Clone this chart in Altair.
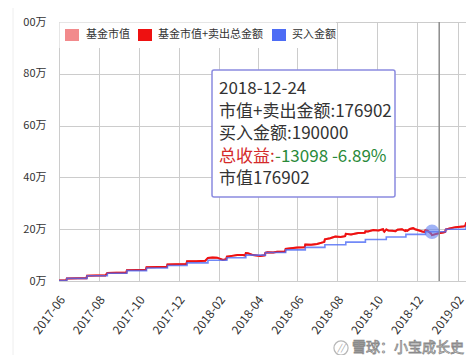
import altair as alt
import pandas as pd

# ---------------- data (values in 万元) ----------------
mv_dates = [
    "2017-06-01", "2017-06-12", "2017-06-13", "2017-06-30", "2017-07-13", "2017-07-14", "2017-07-28", "2017-08-11",
    "2017-08-14", "2017-08-28", "2017-09-12", "2017-09-13", "2017-09-28", "2017-10-12", "2017-10-13", "2017-10-30",
    "2017-11-13", "2017-11-14", "2017-11-28", "2017-12-13", "2017-12-14", "2017-12-28", "2018-01-11", "2018-01-15",
    "2018-01-22", "2018-01-29", "2018-02-07", "2018-02-12", "2018-02-13", "2018-02-23", "2018-03-01", "2018-03-10",
    "2018-03-13", "2018-03-14", "2018-03-17", "2018-03-25", "2018-04-05", "2018-04-12", "2018-04-13", "2018-04-16",
    "2018-04-25", "2018-05-01", "2018-05-13", "2018-05-14", "2018-05-22", "2018-06-01", "2018-06-12", "2018-06-13",
    "2018-06-22", "2018-07-01", "2018-07-11", "2018-07-12", "2018-07-13", "2018-07-21", "2018-07-29", "2018-08-06",
    "2018-08-13", "2018-08-14", "2018-08-22", "2018-09-02", "2018-09-12", "2018-09-13", "2018-09-17", "2018-09-25",
    "2018-10-03", "2018-10-10", "2018-10-11", "2018-10-12", "2018-10-15", "2018-10-18", "2018-10-24", "2018-10-29",
    "2018-11-01", "2018-11-08", "2018-11-13", "2018-11-14", "2018-11-16", "2018-11-20", "2018-11-25", "2018-11-28",
    "2018-12-02", "2018-12-09", "2018-12-13", "2018-12-14", "2018-12-17", "2018-12-22", "2018-12-24", "2018-12-28",
    "2019-01-03", "2019-01-10", "2019-01-13", "2019-01-14", "2019-01-20", "2019-01-29", "2019-02-09", "2019-02-13",
    "2019-02-14", "2019-02-24", "2019-02-27",
]
mv_values = [
    0.2, 0.2, 1.0, 1.02, 1.05, 2.05, 2.12, 2.1,
    3.1, 3.18, 3.2, 4.2, 4.25, 4.3, 5.3, 5.4,
    5.4, 6.4, 6.5, 6.6, 7.6, 7.6, 7.8, 8.9,
    9.1, 9.0, 8.1, 8.4, 9.4, 9.8, 10.0, 10.0,
    9.8, 10.8, 10.7, 10.0, 9.7, 9.9, 10.9, 11.1,
    11.0, 11.3, 11.4, 12.4, 12.6, 12.9, 13.0, 14.1,
    14.0, 14.3, 15.0, 15.1, 16.1, 16.5, 17.2, 17.0,
    17.3, 18.2, 18.0, 18.5, 18.6, 19.2, 19.1, 19.7,
    19.5, 20.0, 19.3, 19.0, 19.9, 19.5, 19.4, 19.2,
    19.8, 20.0, 19.3, 19.6, 19.4, 20.1, 20.4, 20.0,
    19.7, 19.1, 18.9, 19.6, 19.4, 18.5, 17.69, 18.0,
    18.4, 18.7, 18.9, 19.9, 20.3, 20.8, 21.0, 21.2,
    22.3, 22.6, 22.7,
]

buy_dates = [
    "2017-06-01", "2017-06-13", "2017-07-14", "2017-08-14", "2017-09-13", "2017-10-13", "2017-11-14", "2017-12-14",
    "2018-01-15", "2018-02-13", "2018-03-14", "2018-04-13", "2018-05-14", "2018-06-13", "2018-07-13", "2018-08-14",
    "2018-09-13", "2018-10-15", "2018-11-14", "2018-12-14", "2019-01-14", "2019-02-14", "2019-02-27",
]
buy_values = [0.2, 1, 2, 3, 4, 5, 6, 7, 8, 9, 10, 11, 12, 13, 14, 15, 16, 17, 18, 19, 20, 21, 21]

series_names = ["基金市值", "基金市值+卖出总金额", "买入金额"]
series_colors = ["#f28a8c", "#ee1111", "#4d6cf5"]

y_ticks = [0, 20, 40, 60, 80, 100]
x_tick_months = [(2017, 6), (2017, 8), (2017, 10), (2017, 12), (2018, 2), (2018, 4),
                 (2018, 6), (2018, 8), (2018, 10), (2018, 12), (2019, 2)]

tip_date = "2018-12-24"
tip_total = 176902
tip_buy = 190000
tip_mv = 176902
cursor_date = "2019-01-04"
watermark = "雪球：小宝成长史"

# ---------------- layout ----------------
FONT = "Noto Sans CJK SC"
W, H = 407, 259   # plot area; svg = 51 + 407 = 458 px wide (fits inside the 8px page margins)

mv_df = pd.DataFrame({"date": pd.to_datetime(mv_dates), "value": mv_values})
mv1 = mv_df.assign(series=series_names[0])
mv2 = mv_df.assign(series=series_names[1])
buy_df = pd.DataFrame({"date": pd.to_datetime(buy_dates), "value": buy_values,
                       "series": series_names[2]})

x_scale = alt.Scale(domain=[alt.DateTime(year=2017, month=6, date=1),
                            alt.DateTime(year=2019, month=2, date=14)])
y_scale = alt.Scale(domain=[0, 100], nice=False, zero=True)

x_axis = alt.Axis(
    values=[alt.DateTime(year=yy, month=mm, date=1) for yy, mm in x_tick_months],
    format="%Y-%m", labelAngle=-53, labelAlign="right", labelBaseline="middle",
    labelPadding=16, labelOffset=3, labelFontSize=12, labelColor="#333333", labelFont=FONT,
    grid=True, gridColor="#cccccc", gridWidth=1, domainColor="#cccccc",
    ticks=False, labelOverlap=False, labelBound=False, labelFlush=False, title=None,
)
y_axis = alt.Axis(
    values=y_ticks,
    labelExpr="datum.value == 100 ? '00万' : datum.value + '万'",
    labelPadding=13, labelFontSize=11, labelColor="#333333", labelFont=FONT,
    grid=True, gridColor="#cccccc", gridWidth=1, domainColor="#cccccc",
    ticks=False, title=None,
)

x_enc = alt.X("date:T", scale=x_scale, axis=x_axis, title=None)
y_enc = alt.Y("value:Q", scale=y_scale, axis=y_axis, title=None)

series_scale = alt.Scale(domain=series_names, range=series_colors)
color_enc = alt.Color("series:N", scale=series_scale, legend=None)

pink = alt.Chart(mv1).mark_line(strokeWidth=2, clip=True).encode(x=x_enc, y=y_enc, color=color_enc)
red = alt.Chart(mv2).mark_line(strokeWidth=2, clip=True).encode(x=x_enc, y=y_enc, color=color_enc)
blue = alt.Chart(buy_df).mark_line(interpolate="step-after", strokeWidth=1.6, opacity=0.8,
                                   clip=True).encode(x=x_enc, y=y_enc, color=color_enc)

cursor = alt.Chart(pd.DataFrame({"date": pd.to_datetime([cursor_date])})).mark_rule(
    color="#8c8c8c", strokeWidth=1.5).encode(x=x_enc, y=alt.value(0), y2=alt.value(H))

dot = alt.Chart(pd.DataFrame({"date": pd.to_datetime([tip_date]),
                              "value": [tip_buy / 10000]})).mark_circle(
    size=210, color="#5f7ff0", opacity=0.6).encode(x=x_enc, y=y_enc)

one = pd.DataFrame({"k": [0]})

page_line = alt.Chart(one).mark_rule(color="#eeeeee", strokeWidth=1).encode(
    x=alt.value(-46), y=alt.value(-14), y2=alt.value(H + 75))

# ---- legend (top-left, on a white band) ----
legend_bg = alt.Chart(one).mark_rect(fill="white").encode(
    x=alt.value(0.5), x2=alt.value(277), y=alt.value(0.5), y2=alt.value(26))
legend_sym_x = [6, 79, 213]
legend_lab_x = [27, 99, 233]
legend_layers = [legend_bg]
for name, sx, lx in zip(series_names, legend_sym_x, legend_lab_x):
    row = pd.DataFrame({"series": [name]})
    legend_layers.append(
        alt.Chart(row).mark_rect().encode(
            x=alt.value(sx), x2=alt.value(sx + 14), y=alt.value(7), y2=alt.value(19),
            color=alt.Color("series:N", scale=series_scale, legend=None)))
    legend_layers.append(
        alt.Chart(row).mark_text(align="left", baseline="middle", font=FONT, fontSize=11,
                                 color="#333333").encode(
            x=alt.value(lx), y=alt.value(13), text="series:N"))

# ---- tooltip ----
tip_box = alt.Chart(one).mark_rect(fill="white", stroke="#8b8be0", strokeWidth=1.5,
                                   cornerRadius=2).encode(
    x=alt.value(153), x2=alt.value(336), y=alt.value(48), y2=alt.value(175))

profit = tip_total - tip_buy
pct = profit / tip_buy * 100


def txt(s, x, y, color="#333333", size=17):
    return alt.Chart(one).mark_text(text=s, align="left", baseline="middle", font=FONT,
                                    fontSize=size, color=color).encode(
        x=alt.value(x), y=alt.value(y))


tips = [
    txt(tip_date, 160, 67),
    txt(f"市值+卖出金额:{tip_total}", 160, 89.5),
    txt(f"买入金额:{tip_buy}", 160, 112),
    txt("总收益:", 160, 134.5, color="#d42a2a"),
    txt(f"{profit} {pct:.2f}%", 216, 134.5, color="#2a8a3a"),
    txt(f"市值{tip_mv}", 160, 157),
]

# ---- watermark ----
logo = alt.Chart(one).mark_point(shape="circle", filled=False, size=200, color="#999999",
                                 strokeWidth=1.2).encode(x=alt.value(282), y=alt.value(326))
logo_t = alt.Chart(one).mark_text(text="//", fontSize=9, color="#999999", font=FONT,
                                  fontStyle="italic").encode(x=alt.value(282), y=alt.value(326))
wm = alt.Chart(one).mark_text(text=watermark, align="left", baseline="middle", font=FONT,
                              fontSize=14, fill="white", stroke="#8a8a8a",
                              strokeWidth=0.8).encode(x=alt.value(293), y=alt.value(326))

chart = alt.layer(
    page_line, pink, red, blue, cursor, dot, *legend_layers, tip_box, *tips, logo, logo_t, wm
).properties(
    width=W, height=H,
    autosize=alt.AutoSizeParams(type="none"),
    padding={"left": 51, "top": 14, "right": 0, "bottom": 74},
    background="white",
).configure_view(strokeWidth=0)

chart.save("out.html", embed_options={"renderer": "svg", "actions": False})
